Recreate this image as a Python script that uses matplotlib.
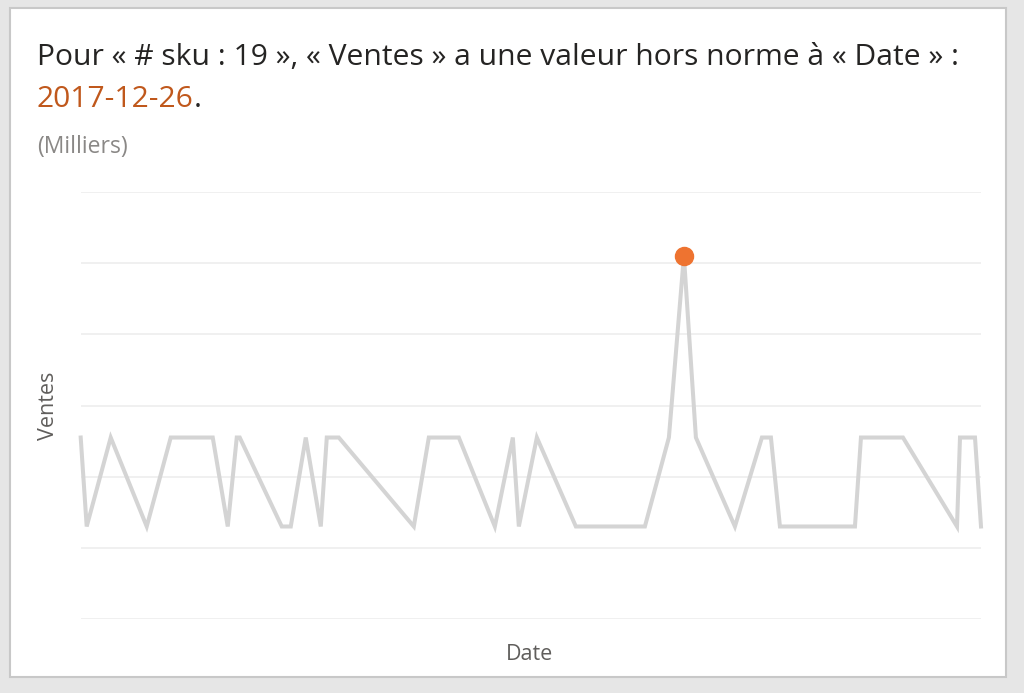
import matplotlib
matplotlib.use("Agg")
import matplotlib.pyplot as plt
from matplotlib.patches import Rectangle
import pandas as pd

# data (sales, thousands)
dates = ["2017-06-08", "2017-06-10", "2017-06-18", "2017-06-30", "2017-07-08",
         "2017-07-22", "2017-07-27", "2017-07-30", "2017-07-31", "2017-08-14",
         "2017-08-17", "2017-08-22", "2017-08-27", "2017-08-29", "2017-09-02",
         "2017-09-27", "2017-10-02", "2017-10-12", "2017-10-24", "2017-10-30",
         "2017-11-01", "2017-11-07", "2017-11-20", "2017-12-13", "2017-12-21",
         "2017-12-26", "2017-12-30", "2018-01-12", "2018-01-21", "2018-01-24",
         "2018-01-27", "2018-02-21", "2018-02-23", "2018-03-09", "2018-03-27",
         "2018-03-28", "2018-04-02", "2018-04-04"]
ventes = [0.051, 0.026, 0.051, 0.026, 0.051,
          0.051, 0.026, 0.051, 0.051, 0.026,
          0.026, 0.051, 0.026, 0.051, 0.051,
          0.026, 0.051, 0.051, 0.026, 0.051,
          0.026, 0.051, 0.026, 0.026, 0.051,
          0.102, 0.051, 0.026, 0.051, 0.051,
          0.026, 0.026, 0.051, 0.051, 0.026,
          0.051, 0.051, 0.026]
outlier_date = "2017-12-26"
outlier_value = 0.102
y_ticks = [0, 0.02, 0.04, 0.06, 0.08, 0.10, 0.12]

x = pd.to_datetime(dates)

W, H = 1024, 693
fig = plt.figure(figsize=(W / 100, H / 100), dpi=100, facecolor="#e6e6e6")
font = ["Open Sans", "DejaVu Sans"]

# white card behind everything
fig.patches.append(Rectangle((10 / W, 1 - 677 / H), 996 / W, 669 / H,
                             transform=fig.transFigure, facecolor="white",
                             edgecolor="#c8c8c8", linewidth=1.5, zorder=-5))

ax = fig.add_axes([80.7 / W, 1 - 619 / H, (981 - 80.7) / W, (619 - 192) / H])
ax.set_zorder(2)
ax.patch.set_visible(False)
ax.plot(x, ventes, color="#d4d4d4", linewidth=2.9, solid_joinstyle="miter",
        zorder=2, clip_on=False)
ax.plot(pd.to_datetime([outlier_date]), [outlier_value], "o", color="#ee7330",
        markersize=13, zorder=3, clip_on=False)

ax.set_xlim(x[0], x[-1])
ax.set_ylim(y_ticks[0], y_ticks[-1])
ax.set_yticks(y_ticks)
ax.grid(axis="y", color="#ededed", linewidth=1.2)
ax.set_xticks([])
ax.tick_params(left=False, labelleft=False)
for s in ax.spines.values():
    s.set_visible(False)

fig.text(48 / W, 1 - 406 / H, "Ventes", rotation=90, ha="center", va="center",
         fontsize=15.5, color="#605e5c", family=font)
fig.text(530 / W, 1 - 655 / H, "Date", ha="center", va="center",
         fontsize=15.5, color="#605e5c", family=font)

# title, fitted to the width seen in the picture
renderer = fig.canvas.get_renderer()
t1 = fig.text(37 / W, 1 - 65 / H, "Pour « # sku : 19 », « Ventes » a une valeur hors norme à « Date » :",
              ha="left", va="baseline", fontsize=18, color="#252423", family=font)
wpx = t1.get_window_extent(renderer).width
fs = 18 * 921 / wpx
t1.set_fontsize(fs)
t2 = fig.text(37 / W, 1 - 107 / H, "2017-12-26", ha="left", va="baseline",
              fontsize=fs, color="#c0581c", family=font)
ext = t2.get_window_extent(renderer)
fig.text(ext.x1 / W, 1 - 107 / H, ".", ha="left", va="baseline",
         fontsize=fs, color="#252423", family=font)
fig.text(37 / W, 1 - 153 / H, "(Milliers)", ha="left", va="baseline",
         fontsize=16.5, color="#8a8886", family=font)

fig.savefig("out.png", dpi=100, facecolor=fig.get_facecolor())
